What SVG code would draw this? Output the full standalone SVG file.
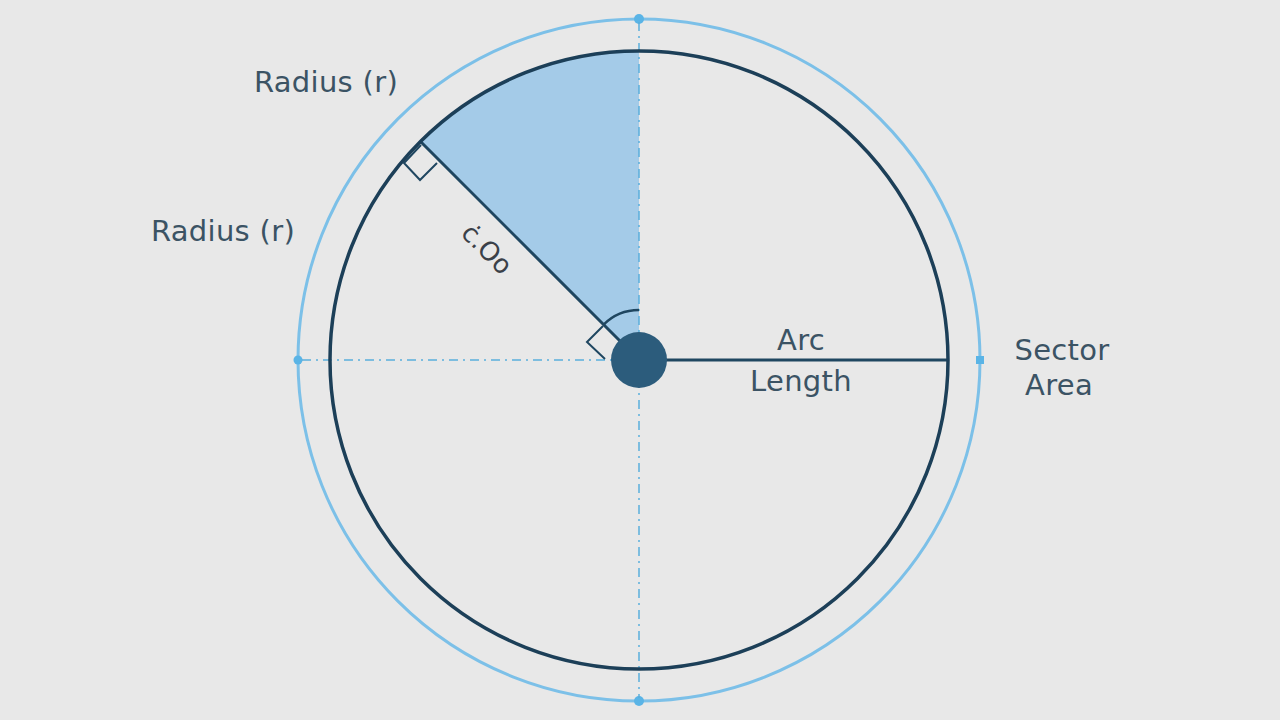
<svg xmlns="http://www.w3.org/2000/svg" width="1280" height="720" viewBox="0 0 1280 720">
<style>
.lbl{font-family:"DejaVu Sans","Liberation Sans",sans-serif;font-size:29px;letter-spacing:0.3px;fill:#3b5364}
.dark{stroke:#1f4660;fill:none}
.dash{stroke:#5aaedc;stroke-width:1.5;stroke-dasharray:9 5 2 5;fill:none}
.dot{fill:#5ab4e6}
</style>
<rect width="1280" height="720" fill="#e8e8e8"/>
<g id="outer-circle">
<circle cx="639" cy="360" r="341" fill="none" stroke="#7cc0e8" stroke-width="3"/>
<circle class="dot" cx="639" cy="19" r="5"/>
<circle class="dot" cx="298" cy="360" r="4.5"/>
<circle class="dot" cx="639" cy="701" r="5"/>
<rect class="dot" x="976" y="356" width="8" height="8"/>
</g>
<g id="sector">
<path d="M639,360 L639,51 A309,309 0 0 0 420.5,141.5 Z" fill="#a4cbe8"/>
</g>
<g id="connectors">
<line class="dash" x1="639" y1="22" x2="639" y2="698"/>
<line class="dash" x1="302" y1="360" x2="639" y2="360"/>
<line class="dark" stroke-width="3" x1="639" y1="360" x2="947" y2="360"/>
<line class="dark" stroke-width="3" x1="639" y1="360" x2="420.5" y2="141.5"/>
<path class="dark" stroke-width="2.5" d="M603.6,324.6 A50,50 0 0 1 639,310"/>
<path class="dark" stroke-width="2" d="M421,145 L404,163 L420,180 L437,163"/>
<path class="dark" stroke-width="2" d="M603,326 L587,342 L605,359"/>
</g>
<g id="inner-circle">
<circle cx="639" cy="360" r="309" fill="none" stroke="#1c3f58" stroke-width="3.5"/>
</g>
<g id="center">
<circle cx="639" cy="360" r="28" fill="#2c5c7c"/>
</g>
<g id="labels">
<text class="lbl" x="326" y="92" text-anchor="middle">Radius (r)</text>
<text class="lbl" x="223" y="241" text-anchor="middle">Radius (r)</text>
<text class="lbl" x="801" y="350" text-anchor="middle">Arc</text>
<text class="lbl" x="801" y="391" text-anchor="middle">Length</text>
<text class="lbl" x="1062" y="360" text-anchor="middle">Sector</text>
<text class="lbl" x="1059" y="395" text-anchor="middle">Area</text>
<text x="0" y="0" transform="translate(486,250) rotate(45)" text-anchor="middle" dominant-baseline="middle" font-family="DejaVu Sans,sans-serif" font-size="26" fill="#3a4048">ċ.Oo</text>
</g>
</svg>
